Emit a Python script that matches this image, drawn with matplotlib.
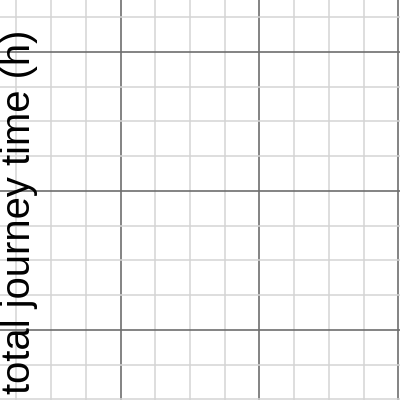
import matplotlib
matplotlib.use("Agg")
import matplotlib.pyplot as plt
from matplotlib.ticker import MultipleLocator

# visible window of the grid (data units, one major cell = 1)
x_range = [-0.867, 2.011]
y_range = [-0.504, 2.374]
major_step = 1.0
minor_step = 0.25
y_label = "total journey time (h)"

fig = plt.figure(figsize=(4, 4), dpi=100)
ax = fig.add_axes([0, 0, 1, 1])
ax.set_xlim(x_range)
ax.set_ylim(y_range)

ax.xaxis.set_major_locator(MultipleLocator(major_step))
ax.yaxis.set_major_locator(MultipleLocator(major_step))
ax.xaxis.set_minor_locator(MultipleLocator(minor_step))
ax.yaxis.set_minor_locator(MultipleLocator(minor_step))

ax.grid(which="major", color="#6e6e6e", linewidth=1.2)
ax.grid(which="minor", color="#d4d4d4", linewidth=1.1)
ax.tick_params(which="both", length=0, labelbottom=False, labelleft=False)
for s in ax.spines.values():
    s.set_visible(False)
ax.set_axisbelow(True)

fig.text(19 / 400, 1 - 212 / 400, y_label, rotation=90, ha="center", va="center",
         fontsize=28.8, family="Liberation Sans", color="black")

fig.savefig("out.png", dpi=100)
